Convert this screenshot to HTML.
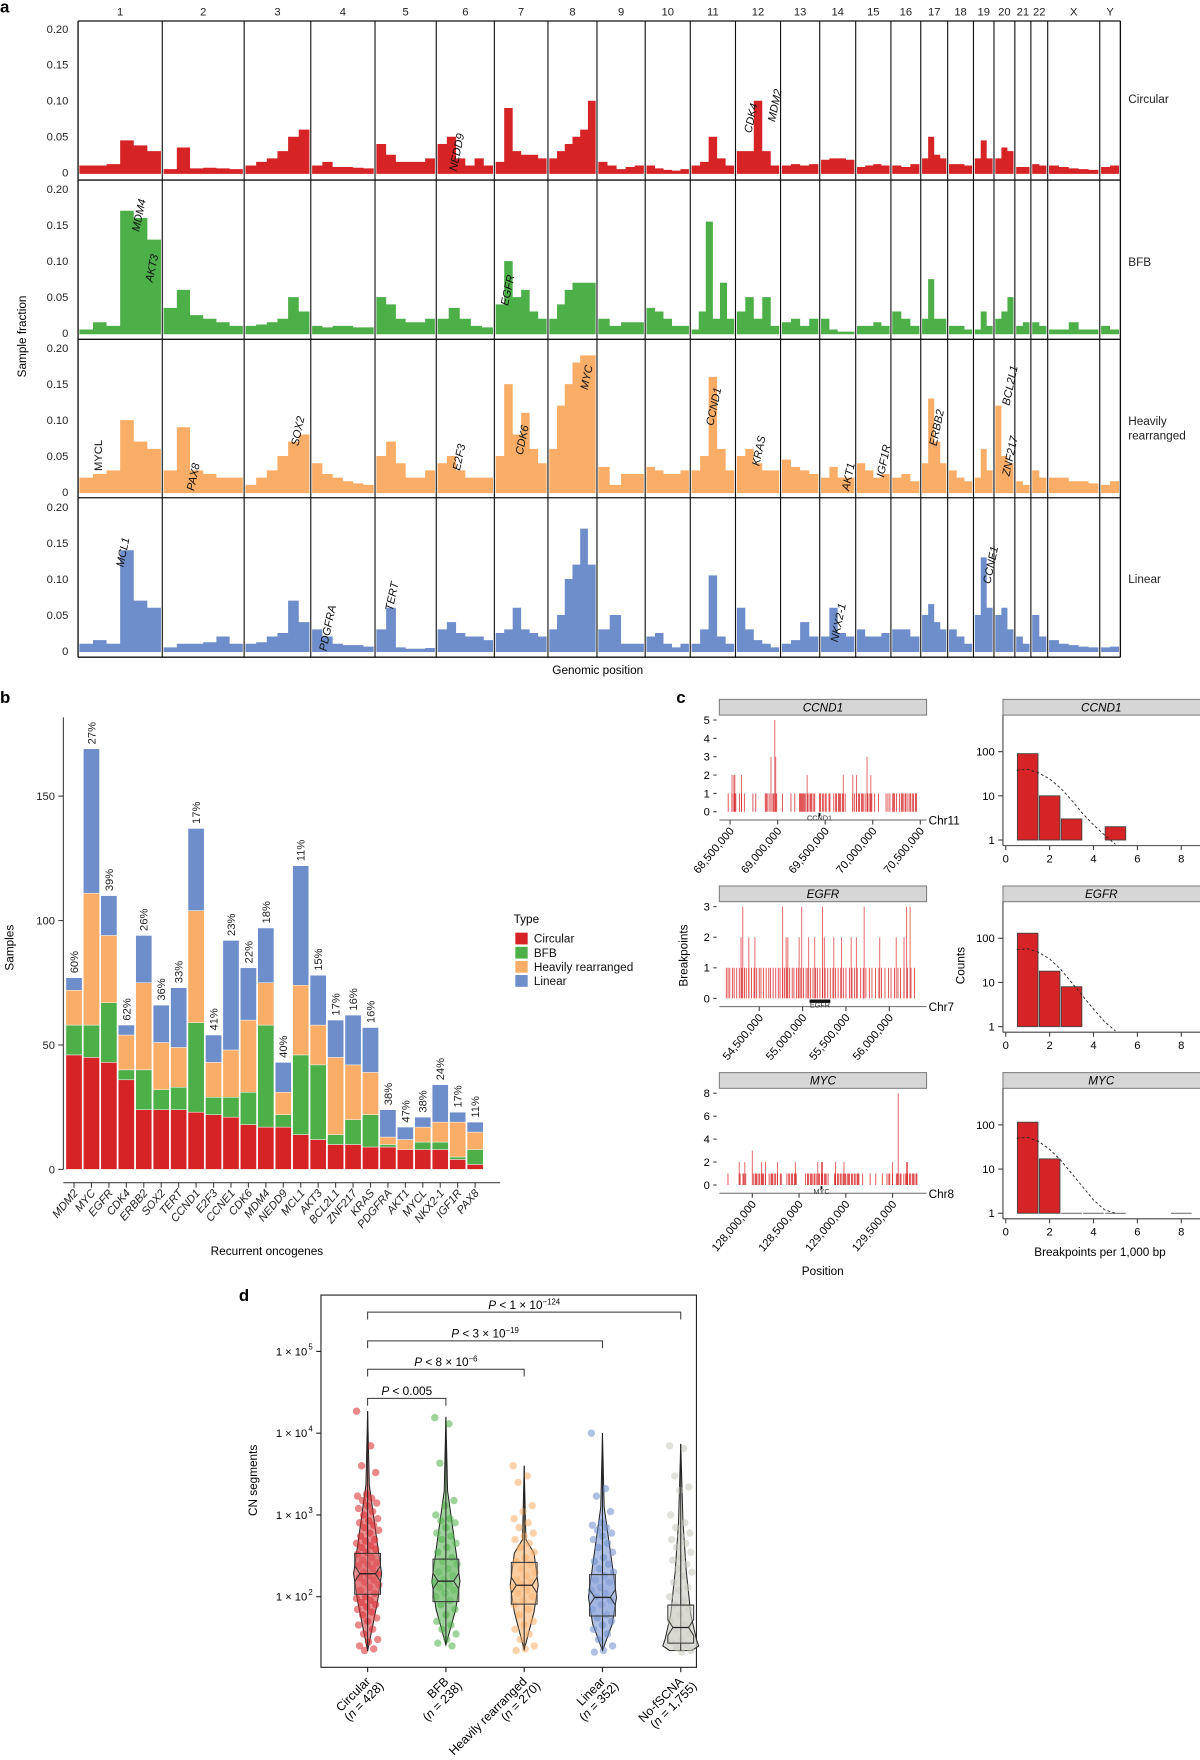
<!DOCTYPE html>
<html><head><meta charset="utf-8"><style>
html,body{margin:0;padding:0;background:#fff;}
svg{display:block;font-family:"Liberation Sans",Arial,sans-serif;}
</style></head>
<body>
<svg id="fig" xmlns="http://www.w3.org/2000/svg" width="1200" height="1760" viewBox="0 0 1070 1569.3">
<g id="ga"></g>
<g id="gb"></g>
<g id="gc"></g>
<g id="gd"></g>
</svg>
<script>
// ================= PANEL A DATA =================
const chromNames = ["1","2","3","4","5","6","7","8","9","10","11","12","13","14","15","16","17","18","19","20","21","22","X","Y"];
const rowNames = ["Circular","BFB","Heavily rearranged","Linear"];
const circVals = [[0.01,0.01,0.012,0.045,0.038,0.03],[0.005,0.035,0.006,0.007,0.006,0.005],[0.01,0.015,0.02,0.03,0.05,0.06],[0.01,0.015,0.008,0.008,0.007,0.006],[0.04,0.025,0.015,0.015,0.015,0.02],[0.04,0.05,0.02,0.01,0.02,0.01],[0.015,0.09,0.03,0.025,0.025,0.02],[0.02,0.03,0.04,0.05,0.06,0.1],[0.015,0.01,0.005,0.008,0.01],[0.01,0.006,0.004,0.003,0.005],[0.01,0.015,0.05,0.02,0.01],[0.03,0.03,0.1,0.03,0.01],[0.01,0.012,0.01,0.012],[0.018,0.02,0.02,0.018],[0.008,0.01,0.012,0.01],[0.01,0.008,0.012],[0.02,0.05,0.025,0.02],[0.012,0.012,0.01],[0.02,0.045,0.02],[0.02,0.035,0.03],[0.008,0.008],[0.012,0.01],[0.01,0.008,0.006,0.005,0.004],[0.008,0.01]];
const bfbVals = [[0.005,0.015,0.01,0.17,0.16,0.13],[0.035,0.06,0.025,0.02,0.015,0.01],[0.01,0.012,0.015,0.02,0.05,0.03],[0.01,0.008,0.01,0.01,0.008,0.008],[0.05,0.04,0.02,0.015,0.015,0.02],[0.02,0.035,0.02,0.01,0.008],[0.04,0.1,0.05,0.06,0.03,0.02],[0.02,0.04,0.06,0.07,0.07,0.07],[0.02,0.01,0.015,0.015],[0.035,0.03,0.02,0.01,0.01],[0.005,0.03,0.155,0.02,0.07,0.02],[0.03,0.05,0.02,0.05,0.01],[0.015,0.02,0.01,0.02],[0.02,0.005,0.002,0.002],[0.01,0.01,0.015,0.01],[0.03,0.02,0.01],[0.02,0.075,0.02,0.02],[0.01,0.01,0.005],[0.005,0.03,0.01],[0.02,0.03,0.05],[0.01,0.015],[0.015,0.01],[0.005,0.005,0.015,0.005,0.005],[0.01,0.005]];
const heavyVals = [[0.02,0.025,0.03,0.1,0.07,0.06],[0.03,0.09,0.03,0.025,0.02,0.02],[0.01,0.02,0.03,0.05,0.07,0.08],[0.04,0.025,0.02,0.015,0.012,0.01],[0.05,0.07,0.04,0.02,0.02,0.03],[0.04,0.05,0.03,0.02,0.02,0.02],[0.05,0.15,0.08,0.11,0.06,0.04],[0.06,0.12,0.15,0.18,0.19,0.19],[0.035,0.01,0.025,0.025],[0.035,0.03,0.025,0.025,0.03],[0.03,0.05,0.16,0.06,0.03],[0.05,0.06,0.04,0.03,0.03],[0.045,0.035,0.03,0.025],[0.02,0.035,0.02,0.02],[0.04,0.03,0.02,0.025],[0.02,0.025,0.015],[0.04,0.13,0.07,0.04],[0.03,0.02,0.015],[0.02,0.06,0.03],[0.12,0.05,0.04],[0.015,0.01],[0.03,0.02],[0.02,0.02,0.015,0.015,0.012],[0.01,0.015]];
const linVals = [[0.01,0.015,0.01,0.14,0.07,0.06],[0.005,0.01,0.01,0.012,0.02,0.01],[0.01,0.012,0.02,0.025,0.07,0.04],[0.03,0.02,0.01,0.008,0.008,0.006],[0.03,0.06,0.005,0.003,0.003,0.004],[0.03,0.04,0.025,0.02,0.02,0.015],[0.025,0.03,0.06,0.03,0.025,0.02],[0.03,0.05,0.1,0.12,0.17,0.12],[0.03,0.05,0.01,0.01],[0.02,0.025,0.01,0.005,0.01],[0.01,0.03,0.105,0.02,0.01],[0.06,0.03,0.015,0.01,0.005],[0.01,0.015,0.04,0.02],[0.02,0.06,0.025,0.02],[0.03,0.02,0.02,0.025],[0.03,0.03,0.02],[0.05,0.065,0.04,0.03],[0.03,0.02,0.01],[0.05,0.13,0.06],[0.05,0.06,0.03],[0.02,0.01],[0.05,0.02],[0.015,0.01,0.008,0.006,0.005],[0.005,0.006]];
const aTicks = [0,0.05,0.10,0.15,0.20];
const aTickLabels = ["0","0.05","0.10","0.15","0.20"];
const geneLabels = [["NEDD9",404,153,true],["CDK4",667,119,true],["MDM2",688,109,true],["MDM4",121,207,true],["AKT3",133,252,true],["EGFR",450,273,true],["MYCL",88,420,false],["PAX8",170,438,true],["SOX2",263,398,true],["E2F3",407,420,true],["CDK6",463,406,true],["MYC",521,348,true],["CCND1",633,380,true],["KRAS",674,416,true],["AKT1",754,438,true],["IGF1R",785,426,true],["ERBB2",832,398,true],["ZNF217",897,425,true],["BCL2L1",897,362,true],["MCL1",107,506,true],["PDGFRA",288,581,true],["TERT",347,545,true],["NKX2-1",744,573,true],["CCNE1",880,521,true]];

// ================= PANEL B DATA =================
const genesB = ["MDM2","MYC","EGFR","CDK4","ERBB2","SOX2","TERT","CCND1","E2F3","CCNE1","CDK6","MDM4","NEDD9","MCL1","AKT3","BCL2L1","ZNF217","KRAS","PDGFRA","AKT1","MYCL","NKX2-1","IGF1R","PAX8"];
const bCirc   = [46,45,43,36,24,24,24,23,22,21,18,17,17,14,12,10,10,9,9,8,8,8,4,2];
const bBFB    = [12,13,24,4,16,8,9,36,7,8,13,41,5,32,30,4,10,13,1,0,3,3,1,6];
const bHeavy  = [14,53,27,14,35,19,16,45,14,19,29,17,9,28,16,31,22,17,3,4,6,8,14,7];
const bLinear = [5,58,16,4,19,15,24,33,11,44,21,22,12,48,20,15,20,18,11,5,4,15,4,4];
const bPct = ["60%","27%","39%","62%","26%","36%","33%","17%","41%","23%","22%","18%","40%","11%","15%","17%","16%","16%","38%","47%","38%","24%","17%","11%"];
const bTicks = [0,50,100,150];

// ================= PANEL C DATA =================
const ccnd1Ones = [68.48,68.52,68.54,68.55,68.56,68.60,68.62,68.65,68.74,68.77,68.87,68.88,68.89,68.91,68.93,68.95,68.96,68.98,68.99,69.05,69.14,69.18,69.23,69.24,69.25,69.26,69.27,69.28,69.29,69.31,69.32,69.34,69.35,69.36,69.38,69.39,69.44,69.45,69.47,69.48,69.50,69.51,69.54,69.55,69.59,69.61,69.62,69.64,69.65,69.66,69.68,69.69,69.71,69.79,69.81,69.83,69.85,69.86,69.88,69.89,69.90,69.92,69.94,69.95,69.97,69.98,69.99,70.02,70.06,70.14,70.16,70.18,70.21,70.22,70.23,70.25,70.28,70.30,70.31,70.32,70.34,70.35,70.37,70.39,70.40,70.42,70.43,70.45,70.46];
const ccnd1PeakPos = [68.52,68.54,68.55,68.62,69.31,69.69,69.79,69.83,69.98,68.93,68.98,69.94,68.97];
const ccnd1PeakH   = [2,2,2,2,2,2,2,2,2,3,3,3,5];
const egfrOnes = [54.12,54.14,54.16,54.19,54.21,54.24,54.27,54.30,54.33,54.35,54.38,54.41,54.44,54.47,54.50,54.52,54.55,54.58,54.61,54.63,54.66,54.69,54.72,54.74,54.77,54.79,54.82,54.85,54.88,54.90,54.93,54.95,54.98,55.01,55.04,55.06,55.09,55.12,55.15,55.17,55.20,55.23,55.26,55.29,55.32,55.35,55.38,55.41,55.44,55.47,55.50,55.54,55.57,55.60,55.63,55.67,55.70,55.73,55.77,55.80,55.84,55.88,55.91,55.95,55.99,56.02,56.06,56.10,56.13,56.17,56.21,56.25,56.29];
const egfrPeakPos = [54.29,54.38,54.45,54.81,54.83,54.96,55.07,55.14,55.25,55.36,55.45,55.56,55.62,55.89,56.08,56.17,54.31,54.77,54.99,55.23,55.71,56.20,56.24];
const egfrPeakH   = [2,2,2,2,2,2,2,2,2,2,2,2,2,2,2,2,3,3,3,3,3,3,3];
const mycOnes = [127.74,127.86,127.87,127.90,127.91,127.93,128.01,128.03,128.04,128.05,128.07,128.08,128.10,128.11,128.12,128.14,128.18,128.20,128.21,128.22,128.24,128.25,128.27,128.30,128.31,128.37,128.39,128.40,128.42,128.43,128.45,128.46,128.47,128.57,128.59,128.60,128.62,128.63,128.64,128.66,128.67,128.69,128.71,128.72,128.74,128.75,128.77,128.78,128.79,128.81,128.88,128.89,128.91,128.92,128.94,128.95,128.97,128.99,129.00,129.02,129.03,129.04,129.06,129.07,129.09,129.10,129.12,129.13,129.14,129.18,129.26,129.32,129.39,129.44,129.46,129.47,129.50,129.54,129.55,129.56,129.58,129.59,129.62,129.64,129.65,129.66,129.68,129.69,129.71,129.72,129.73,129.75,129.76];
const mycPeakPos = [127.86,127.92,128.10,128.14,128.27,128.46,128.70,128.74,128.75,128.89,128.98,129.50,129.65,129.66,128.00,129.56];
const mycPeakH   = [2,2,2,2,2,2,2,2,2,2,2,2,2,2,3,8];
const ccnd1Hist = [90,10,3,0,2];
const egfrHist = [130,18,8];
const mycHist = [115,17,1,1,1,0,0,1];
const curveX = [0.5,1,1.5,2,2.5,3,3.5,4,4.5,5];
const ccnd1Curve = [38,40,33,24,15,8,4,2.2,1.3,0.8];
const egfrCurve = [55,58,48,34,20,10,5,2.5,1.3,0.8];
const mycCurve = [50,52,42,28,16,8,4,2,1.2,1.0];

// ================= PANEL D DATA =================
const dGroups = ["Circular","BFB","Heavily rearranged","Linear","No-fSCNA"];
const dN = ["428","238","270","352","1,755"];
const dTop = [18600,15800,4000,10000,7400];
const dBottom = [21.7,25.7,22.4,21.9,21.9];
const dQ3 = [339,288,263,186,79];
const dMed = [191,155,138,98,42];
const dQ1 = [107,87,81,58,27];
const circDots = [18600,7000,4000,3300,1800,1700,1600,1500,1400,1300,1200,1100,1000,900,850,800,750,700,650,600,550,500,480,450,420,400,380,350,330,300,280,260,250,240,220,200,190,180,170,160,150,140,130,120,110,100,95,90,85,80,75,70,65,60,55,50,45,40,35,30,28,25,23,22];
const bfbDots = [15500,13000,4300,1500,1300,1000,900,850,800,700,600,550,500,450,400,350,300,270,250,220,200,180,160,150,140,130,120,110,100,90,80,70,60,50,45,40,35,30,27,25];
const heavyDots = [4000,3000,2500,1300,1100,900,800,700,600,550,500,450,400,350,300,270,250,220,200,180,160,150,140,130,120,110,100,90,80,70,60,50,45,40,35,30,25,23,22];
const linDots = [10000,2100,1700,1100,800,750,700,650,600,550,500,450,400,350,300,270,250,220,200,180,160,150,130,120,110,100,90,80,70,60,55,50,45,40,35,30,25,22,21];
const noDots = [7000,6500,3000,2200,2000,1000,800,700,600,550,500,450,400,350,300,280,250,220,200,180,150,130,120,100,90,80,70,60,50,45,40,35,30,28,26,24,22,21];
const pLabels = ["0.005","8 × 10","3 × 10","1 × 10"];
const pExp = ["","−6","−19","−124"];

// ================= HELPERS =================
const NS="http://www.w3.org/2000/svg";
function mk(parent,tag,attrs,text){const e=document.createElementNS(NS,tag);for(const k in attrs)e.setAttribute(k,attrs[k]);if(text!==undefined)e.textContent=text;parent.appendChild(e);return e;}
const RED="#d62326",GREEN="#4caf47",ORANGE="#f9ad66",BLUE="#6d8dcb",GREY="#d8d8d2";
const rowColors=[RED,GREEN,ORANGE,BLUE];

// ================= PANEL A =================
const ga=document.getElementById('ga');
const bounds=[69.6,144.7,217.7,277.1,334.4,389,440.8,488.6,532.3,575.3,615.5,655.8,696,730.9,763,794.4,821,845,868,886.3,904.9,919.2,934.2,980.6,999];
const rowZero=[154,297,438.7,580.4];
const rowTopY=[18.7,160.5,302.5,443.8];
const rowScale=128.3/0.2;
const rowData=[circVals,bfbVals,heavyVals,linVals];
function yA(r,v){return rowZero[r]-v*rowScale;}
let t=mk(ga,'text',{x:0,y:11,'font-size':15,'font-weight':'bold'},'a');


for(let r=0;r<4;r++){
  for(let c=0;c<24;c++){
    const vals=rowData[r][c];const x0=bounds[c]+1.2,x1=bounds[c+1]-1.2;const w=(x1-x0)/vals.length;
    let d=`M${x0},${rowZero[r]+1}`;
    vals.forEach((v,i)=>{d+=` L${x0+i*w},${yA(r,v)} L${x0+(i+1)*w},${yA(r,v)}`;});
    d+=` L${x1},${rowZero[r]+1} Z`;
    const p=mk(ga,'path',{d:d,fill:rowColors[r]});
    
    
  }
  aTicks.forEach((tv,i)=>{
    const tl=mk(ga,'text',{x:61,y:yA(r,tv)+3.5,'font-size':10,'text-anchor':'end',fill:'#222'},aTickLabels[i]);
    
    
  });
  if(r>0){const hl=mk(ga,'line',{x1:69.6,x2:999,y1:rowTopY[r],y2:rowTopY[r],stroke:'#111','stroke-width':1.2});
    
    }
}
bounds.forEach((b,i)=>{
  const l=mk(ga,'line',{x1:b,x2:b,y1:18.7,y2:586,stroke:'#111','stroke-width':(i==0||i==24)?1.2:1});
  
  
});
let fr=mk(ga,'line',{x1:69.6,x2:999,y1:18.7,y2:18.7,stroke:'#111','stroke-width':1.2});


fr=mk(ga,'line',{x1:69.6,x2:999,y1:586,y2:586,stroke:'#111','stroke-width':1.2});


chromNames.forEach((n,i)=>{
  const tl=mk(ga,'text',{x:(bounds[i]+bounds[i+1])/2,y:14,'font-size':10,'text-anchor':'middle',fill:'#222'},n);
  
  
});
const rowLab=[["Circular",92],["BFB",237],["Heavily",379],["rearranged",392],["Linear",520]];
rowLab.forEach(rl=>{const tl=mk(ga,'text',{x:1006,y:rl[1],'font-size':10.5,fill:'#222'},rl[0]);
  
  });
t=mk(ga,'text',{x:0,y:0,'font-size':10.5,'text-anchor':'middle',transform:'translate(23,300) rotate(-90)'},'Sample fraction');


t=mk(ga,'text',{x:533,y:601,'font-size':10.5,'text-anchor':'middle'},'Genomic position');


geneLabels.forEach(g=>{
  const tl=mk(ga,'text',{x:0,y:0,'font-size':10,'font-style':g[3]?'italic':'normal',fill:'#111',transform:`translate(${g[1]+3},${g[2]}) rotate(${g[3]?-78:-90})`},g[0]);
  
  
});

// ================= PANEL B =================
const gb=document.getElementById('gb');
const b0=1042.7,bS=2.219,bX0=66,bStep=15.55,bW=14.4;
function yB(v){return b0-v*bS;}
function xB(i){return bX0+i*bStep;}
t=mk(gb,'text',{x:0,y:627,'font-size':15,'font-weight':'bold'},'b');


let ax=mk(gb,'line',{x1:56.5,x2:56.5,y1:639.6,y2:1042.7,stroke:'#444','stroke-width':1});


ax=mk(gb,'line',{x1:56.5,x2:446,y1:1054.6,y2:1054.6,stroke:'#444','stroke-width':1});


bTicks.forEach(v=>{
  const tk=mk(gb,'line',{x1:52,x2:56.5,y1:yB(v),y2:yB(v),stroke:'#444'});
  
  
  const tl=mk(gb,'text',{x:49,y:yB(v)+3.5,'font-size':10,'text-anchor':'end',fill:'#222'},String(v));
  
  
});
const seriesB=[bCirc,bBFB,bHeavy,bLinear];
genesB.forEach((g,i)=>{
  let cum=0;
  seriesB.forEach((s,k)=>{
    const v=s[i];
    if(v>0){const rc=mk(gb,'rect',{x:xB(i)-bW/2,y:yB(cum+v),width:bW,height:v*bS,fill:rowColors[k],stroke:'#fff','stroke-width':0.4});
      
      }
    cum+=v;
  });
  const pl=mk(gb,'text',{x:0,y:0,'font-size':10,fill:'#222',transform:`translate(${xB(i)+3.5},${yB(cum)-4}) rotate(-90)`},bPct[i]);
  
  
  const tk=mk(gb,'line',{x1:xB(i),x2:xB(i),y1:1054.6,y2:1059,stroke:'#444'});
  
  
  const xl=mk(gb,'text',{x:0,y:0,'font-size':10,'text-anchor':'end','font-style':'italic',fill:'#222',transform:`translate(${xB(i)+4},${1064}) rotate(-50)`},g);
  
  
});
t=mk(gb,'text',{x:0,y:0,'font-size':10.5,'text-anchor':'middle',transform:'translate(12,845) rotate(-90)'},'Samples');


t=mk(gb,'text',{x:238,y:1119,'font-size':10.5,'text-anchor':'middle'},'Recurrent oncogenes');


t=mk(gb,'text',{x:458,y:823,'font-size':10.5},'Type');


rowNames.forEach((n,k)=>{
  const y=831.6+k*12.6;
  const r=mk(gb,'rect',{x:459.5,y:y,width:11,height:10.5,fill:rowColors[k]});
  
  
  const tl=mk(gb,'text',{x:476,y:y+9,'font-size':10.5,fill:'#111'},n);
  
  
});

// ================= PANEL C =================
const gc=document.getElementById('gc');
t=mk(gc,'text',{x:603,y:627,'font-size':15,'font-weight':'bold'},'c');


const cRows=[
 {gene:'CCND1',chr:'Chr11',ones:ccnd1Ones,pp:ccnd1PeakPos,ph:ccnd1PeakH,ymax:5,yt:[0,1,2,3,4,5],x0:68.5,pxPerMb:84.8,ticks:[68.5,69,69.5,70,70.5],tlab:["68,500,000","69,000,000","69,500,000","70,000,000","70,500,000"],gs:69.43,ge:69.45,hist:ccnd1Hist,curve:ccnd1Curve},
 {gene:'EGFR',chr:'Chr7',ones:egfrOnes,pp:egfrPeakPos,ph:egfrPeakH,ymax:3,yt:[0,1,2,3],x0:54.5,pxPerMb:77.3,ticks:[54.5,55,55.5,56],tlab:["54,500,000","55,000,000","55,500,000","56,000,000"],gs:55.08,ge:55.32,hist:egfrHist,curve:egfrCurve},
 {gene:'MYC',chr:'Chr8',ones:mycOnes,pp:mycPeakPos,ph:mycPeakH,ymax:8,yt:[0,2,4,6,8],x0:128,pxPerMb:83.4,ticks:[128,128.5,129,129.5],tlab:["128,000,000","128,500,000","129,000,000","129,500,000"],gs:128.73,ge:128.75,hist:mycHist,curve:mycCurve}
];
const leftTick={'CCND1':651,'EGFR':677,'MYC':670.8};
cRows.forEach((R,ri)=>{
  const off=ri*166.4;
  const y0=723.8+off,yTop=642+off,axisY=731.2+off;
  const ys=(y0-yTop)/R.ymax;
  const xM=m=>leftTick[R.gene]+(m-R.x0)*R.pxPerMb;
  let s=mk(gc,'rect',{x:641.4,y:623.6+off,width:184.8,height:14,fill:'#d6d6d6',stroke:'#7a7a7a','stroke-width':0.9});
  
  
  s=mk(gc,'text',{x:733.8,y:634.3+off,'font-size':10.5,'font-style':'italic','text-anchor':'middle'},R.gene);
  
  
  let l=mk(gc,'line',{x1:641.4,x2:826.2,y1:axisY,y2:axisY,stroke:'#666','stroke-width':0.9});
  
  
  R.yt.forEach(v=>{
    const tk=mk(gc,'line',{x1:636,x2:639,y1:y0-v*ys,y2:y0-v*ys,stroke:'#444'});
    
    
    const tl=mk(gc,'text',{x:633,y:y0-v*ys+3.5,'font-size':10,'text-anchor':'end'},String(v));
    
    
  });
  R.ones.forEach(m=>{
    const b=mk(gc,'line',{x1:xM(m),x2:xM(m),y1:y0,y2:y0-ys,stroke:RED,'stroke-width':0.8,'stroke-opacity':0.85});
    
    
  });
  R.pp.forEach((m,k)=>{
    const b=mk(gc,'line',{x1:xM(m),x2:xM(m),y1:y0,y2:y0-R.ph[k]*ys,stroke:RED,'stroke-width':0.8,'stroke-opacity':0.75});
    
    
  });
  const gbar=mk(gc,'rect',{x:xM(R.gs),y:y0+1,width:Math.max(1,(R.ge-R.gs)*R.pxPerMb),height:3,fill:'#111'});
  
  
  const gl=mk(gc,'text',{x:xM((R.gs+R.ge)/2),y:y0+8,'font-size':6.5,'text-anchor':'middle',fill:'#333'},R.gene);
  
  
  const cl=mk(gc,'text',{x:828,y:axisY+4,'font-size':10.5},R.chr);
  
  
  R.ticks.forEach((m,k)=>{
    const tk=mk(gc,'line',{x1:xM(m),x2:xM(m),y1:axisY,y2:axisY+4,stroke:'#444'});
    
    
    const tl=mk(gc,'text',{x:0,y:0,'font-size':10,'text-anchor':'end',transform:`translate(${xM(m)+4},${axisY+10}) rotate(-50)`},R.tlab[k]);
    
    
  });
  const hy1=749+off, dec=39.4;
  const yH=v=>hy1-Math.log10(v)*dec;
  const xH=v=>896.8+v*19.56;
  s=mk(gc,'rect',{x:894.3,y:623.6+off,width:180,height:14,fill:'#d6d6d6',stroke:'#7a7a7a','stroke-width':0.9});
  
  
  s=mk(gc,'text',{x:982,y:634.3+off,'font-size':10.5,'font-style':'italic','text-anchor':'middle'},R.gene);
  
  
  l=mk(gc,'line',{x1:894.3,x2:894.3,y1:637.6+off,y2:754+off,stroke:'#444'});
  
  
  l=mk(gc,'line',{x1:894.3,x2:1070,y1:754+off,y2:754+off,stroke:'#444'});
  
  
  [1,10,100].forEach(v=>{
    const tk=mk(gc,'line',{x1:890,x2:894.3,y1:yH(v),y2:yH(v),stroke:'#444'});
    
    
    const tl=mk(gc,'text',{x:887,y:yH(v)+3.5,'font-size':10,'text-anchor':'end'},String(v));
    
    
  });
  [0,2,4,6,8].forEach(v=>{
    const tk=mk(gc,'line',{x1:xH(v),x2:xH(v),y1:754+off,y2:758+off,stroke:'#444'});
    
    
    const tl=mk(gc,'text',{x:xH(v),y:769+off,'font-size':10,'text-anchor':'middle'},String(v));
    
    
  });
  R.hist.forEach((c,k)=>{
    if(c<=0)return;
    const xl=xH(k+0.5)+0.6,xr=xH(k+1.5)-0.6;
    if(c<=1){const ln=mk(gc,'line',{x1:xl,x2:xr,y1:hy1,y2:hy1,stroke:'#777','stroke-width':1});
      
      return;}
    const rc=mk(gc,'rect',{x:xl,y:yH(c),width:xr-xl,height:hy1-yH(c),fill:RED,stroke:'#444','stroke-width':0.8});
    
    
  });
  let d='';curveX.forEach((x,k)=>{d+=(k?' L':'M')+xH(x)+','+yH(R.curve[k]);});
  const cv=mk(gc,'path',{d:d,fill:'none',stroke:'#222','stroke-width':0.8,'stroke-dasharray':'2.5,2'});
  
  
});
t=mk(gc,'text',{x:0,y:0,'font-size':10.5,'text-anchor':'middle',transform:'translate(613,852) rotate(-90)'},'Breakpoints');


t=mk(gc,'text',{x:0,y:0,'font-size':10.5,'text-anchor':'middle',transform:'translate(860,861) rotate(-90)'},'Counts');


t=mk(gc,'text',{x:733.6,y:1137,'font-size':10.5,'text-anchor':'middle'},'Position');


t=mk(gc,'text',{x:980.8,y:1120,'font-size':10.5,'text-anchor':'middle'},'Breakpoints per 1,000 bp');



// ================= PANEL D =================
const gd=document.getElementById('gd');
const dY=v=>1423.7-72.9*(Math.log10(v)-2);
const dX=i=>327.8+i*69.8;
const dFill=["#e06a6d","#7cc378","#fbc48f","#94abdc","#d4d4cc"];
const dDot=["#d8262a","#4fb04a","#f9ad66","#6d8dcb","#c8c8bf"];
const dotSets=[circDots,bfbDots,heavyDots,linDots,noDots];
t=mk(gd,'text',{x:213,y:1160,'font-size':15,'font-weight':'bold'},'d');


let fd=mk(gd,'path',{d:'M286.2,1154.7 L621,1154.7 L621,1486.7 L286.2,1486.7 Z',fill:'none',stroke:'#222','stroke-width':1});


[2,3,4,5].forEach(e=>{
  const y=dY(Math.pow(10,e));
  const tk=mk(gd,'line',{x1:282,x2:286.2,y1:y,y2:y,stroke:'#222'});
  
  
  const tl=mk(gd,'text',{x:274,y:y+3.5,'font-size':10,'text-anchor':'end'},'1 × 10');
  
  
  const sp=mk(gd,'text',{x:275,y:y-1.5,'font-size':7},String(e));
  
  
});
t=mk(gd,'text',{x:0,y:0,'font-size':10.5,'text-anchor':'middle',transform:'translate(229,1320) rotate(-90)'},'CN segments');


dGroups.forEach((g,i)=>{
  const cx=dX(i);
  const w=(i==4)?8:12.5;
  let vd;
  if(i==4){
    vd=`M${cx},${dY(dTop[i])} L${cx+2},${dY(800)} L${cx+5},${dY(200)} L${cx+9},${dY(60)} L${cx+14},${dY(30)} L${cx+16},${dY(25)} L${cx+10},${dY(22)} L${cx},${dY(dBottom[i])} L${cx-10},${dY(22)} L${cx-16},${dY(25)} L${cx-14},${dY(30)} L${cx-9},${dY(60)} L${cx-5},${dY(200)} L${cx-2},${dY(800)} Z`;
  } else {
    vd=`M${cx},${dY(dTop[i])} L${cx+1.5},${dY(dTop[i]/8)} L${cx+w*0.7},${dY(dQ3[i]*1.3)} L${cx+w},${dY(dMed[i])} L${cx+w*0.7},${dY(dQ1[i]*0.8)} L${cx},${dY(dBottom[i])} L${cx-w*0.7},${dY(dQ1[i]*0.8)} L${cx-w},${dY(dMed[i])} L${cx-w*0.7},${dY(dQ3[i]*1.3)} L${cx-1.5},${dY(dTop[i]/8)} Z`;
  }
  const vp=mk(gd,'path',{d:vd,fill:dFill[i],'fill-opacity':0.75,stroke:'#222','stroke-width':0.9});
  
  
  dotSets[i].forEach((v,k)=>{
    const jx=((k*37)%23-11)*0.9;
    const c=mk(gd,'circle',{cx:cx+jx,cy:dY(v),r:3.3,fill:dDot[i],'fill-opacity':0.55});
    
    
  });
  const wl=mk(gd,'line',{x1:cx,x2:cx,y1:dY(dTop[i]),y2:dY(dBottom[i]),stroke:'#222','stroke-width':0.9});
  
  
  const bw=11.5, nw=7;
  const bd=`M${cx-bw},${dY(dQ3[i])} L${cx+bw},${dY(dQ3[i])} L${cx+bw},${dY(dMed[i]*1.25)} L${cx+nw},${dY(dMed[i])} L${cx+bw},${dY(dMed[i]/1.25)} L${cx+bw},${dY(dQ1[i])} L${cx-bw},${dY(dQ1[i])} L${cx-bw},${dY(dMed[i]/1.25)} L${cx-nw},${dY(dMed[i])} L${cx-bw},${dY(dMed[i]*1.25)} Z`;
  const bx=mk(gd,'path',{d:bd,fill:dFill[i],'fill-opacity':0.45,stroke:'#333','stroke-width':0.9});
  
  
  const ml=mk(gd,'line',{x1:cx-nw,x2:cx+nw,y1:dY(dMed[i]),y2:dY(dMed[i]),stroke:'#222','stroke-width':1.2});
  
  
  const tk=mk(gd,'line',{x1:cx,x2:cx,y1:1486.7,y2:1491,stroke:'#222'});
  
  
  const xl=mk(gd,'text',{x:0,y:0,'font-size':11,'text-anchor':'end',transform:`translate(${cx+3},${1500}) rotate(-45)`},g);
  
  
  const nl=mk(gd,'text',{x:0,y:0,'font-size':11,'text-anchor':'end',transform:`translate(${cx+15},${1504}) rotate(-45)`});
  
  
  mk(nl,'tspan',{},'(');
  mk(nl,'tspan',{'font-style':'italic'},'n');
  mk(nl,'tspan',{},' = '+dN[i]+')');
});
const brY=[1246.9,1220.9,1195.6,1170];
brY.forEach((y,k)=>{
  const x2=dX(k+1);
  const br=mk(gd,'path',{d:`M${dX(0)},${y+6.5} L${dX(0)},${y} L${x2},${y} L${x2},${y+6.5}`,fill:'none',stroke:'#333','stroke-width':0.9});
  
  
  const tl=mk(gd,'text',{x:(dX(0)+x2)/2,y:y-3,'font-size':10.5,'text-anchor':'middle'});
  
  
  mk(tl,'tspan',{'font-style':'italic'},'P');
  mk(tl,'tspan',{},' < '+pLabels[k]);
  if(pExp[k]){mk(tl,'tspan',{'font-size':7,dy:-4},pExp[k]);}
});
</script>
</body></html>
